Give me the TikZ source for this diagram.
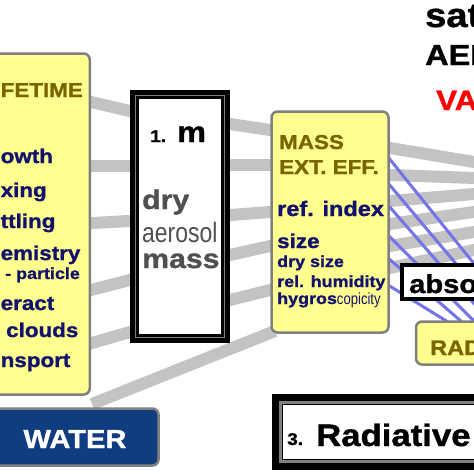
\documentclass[tikz,border=0pt]{standalone}
\usepackage{fontspec}
\setmainfont{Liberation Sans}
\newfontfamily\widesans[FakeStretch=1.12,FakeBold=1.2]{Liberation Sans}
\usepackage{graphicx}
\usetikzlibrary{calc}
\definecolor{ylw}{HTML}{FFFF8F}
\definecolor{bdr}{HTML}{808080}
\definecolor{olv}{HTML}{7A6400}
\definecolor{nvy}{HTML}{12126E}
\definecolor{bandc}{HTML}{C3C3C3}
\definecolor{blu}{HTML}{7474E8}
\definecolor{wblue}{HTML}{103C80}
\definecolor{mgray}{HTML}{505050}
\newcommand\fsz[1]{\fontsize{#1}{#1}\selectfont}
\tikzset{
  ybox/.style={draw=bdr, line width=2.5pt, fill=ylw, rounded corners=6pt, inner sep=0pt},
  band/.style={draw=bandc, line width=12pt},
  bline/.style={draw=blu, line width=3pt},
  txt/.style={inner sep=0pt, anchor=base west},
  lt/.style={inner sep=0pt, anchor=base west, text=nvy, font=\widesans\bfseries\fsz{20}},
  bw/.style={font=\widesans\bfseries\fsz{#1}},
}
\begin{document}
\begin{tikzpicture}[x=1pt,y=-1pt]
\useasboundingbox (0,0) rectangle (474,474);
\clip (0,0) rectangle (474,474);
\fill[white] (0,0) rectangle (474,474);
% gray bands: left box -> m box
\foreach \ya/\yb [count=\i] in {100.6/112.2,166/166,223.4/220.7,291.5/278.7,345/330.6}{
  \coordinate (la\i) at (85,\ya); \coordinate (lb\i) at (135,\yb);
  \draw[band] (la\i) -- (lb\i);}
% gray bands: m box -> MASS box
\foreach \ya/\yb [count=\i] in {123.25/130.75,165/165,215.4/211.6,256.1/244.9,301.25/288.75}{
  \coordinate (ma\i) at (225,\ya); \coordinate (mb\i) at (275,\yb);
  \draw[band] (ma\i) -- (mb\i);}
% water band
\coordinate (w1) at (92,404); \coordinate (w2) at (275,331);
\draw[band] (w1) -- (w2);
% gray bands: MASS -> right
\foreach \ya/\yb [count=\i] in {147.2/163,174.8/178.2,201.4/193.5,224.7/211.1,246.8/231,269/248.7}{
  \coordinate (ra\i) at (385,\ya); \coordinate (rb\i) at (480,\yb);
  \draw[band] (ra\i) -- (rb\i);}
% blue lines: MASS -> RAD
\foreach \ys/\xe [count=\i] in {157/521,183/505,205/490,235/475,258/462,285/448}{
  \coordinate (bs\i) at (388,\ys); \coordinate (be\i) at (\xe,322);
  \draw[bline] (bs\i) -- (be\i);}
% boxes
\node[ybox, minimum width=110pt, minimum height=341pt] (lbox) at (34.75,224) {};
\node[ybox, minimum width=117pt, minimum height=221pt] (mass) at (330,222) {};
\node[ybox, minimum width=90pt, minimum height=43pt] (rad) at (461,343) {};
\node[draw=bdr, line width=2.5pt, fill=wblue, rounded corners=6pt, inner sep=0pt,
      minimum width=179pt, minimum height=57pt] (water) at (69,437) {};
\node[draw=black, line width=4pt, fill=white, inner sep=0pt,
      minimum width=98pt, minimum height=34pt] (absb) at (451,282) {};
% m box frame
\node[fill=black, inner sep=0pt, minimum width=100pt, minimum height=253pt] (mbox) at (180,216.5) {};
\draw[bdr, line width=1.5pt] ($(mbox.north west)+(5.75,5.75)$) rectangle ($(mbox.south east)+(-5.75,-5.75)$);
\fill[white] ($(mbox.north west)+(9,9)$) rectangle ($(mbox.south east)+(-9,-9)$);
% radiative frame
\node[fill=black, inner sep=0pt, minimum width=223pt, minimum height=76pt] (rbox) at (383.5,432) {};
\draw[bdr, line width=3pt] ($(rbox.north west)+(8.5,8.5)$) rectangle ($(rbox.south east)+(-8.5,-8.5)$);
\fill[white] ($(rbox.north west)+(11,11)$) rectangle ($(rbox.south east)+(-11,-11)$);
% left box texts
\node[lt, text=olv] (t0) at (0.5,97) {FETIME};
\node[lt] (t1) at (0.5,163) {owth};
\node[lt] (t2) at (0.5,197) {xing};
\node[lt] (t3) at (0.5,228) {ttling};
\node[lt] (t4) at (0.5,260) {emistry};
\node[lt, font=\widesans\bfseries\fsz{16}] (t5) at (5,279) {- particle};
\node[lt] (t6) at (0.5,310) {eract};
\node[lt] (t7) at (6,337) {clouds};
\node[lt] (t8) at (0.5,367) {nsport};
% m box texts
\node[txt, bw=17] (m1) at (150,142) {1.};
\node[txt, bw=29] (m2) at (177,142) {m};
\node[txt, text=mgray, bw=27] (m3) at (142,209) {dry};
\node[txt, text=mgray, font=\fsz{28}] (m4) at (142,242) {\scalebox{0.82}[1]{aerosol}};
\node[txt, text=mgray, bw=27] (m5) at (142,268) {mass};
% MASS box texts
\node[txt, text=olv, bw=20] (s1) at (279,149) {MASS};
\node[txt, text=olv, bw=20] (s2) at (279,174) {EXT. EFF.};
\node[txt, text=nvy, bw=21] (s3) at (277,216) {ref. index};
\node[txt, text=nvy, bw=20] (s4) at (277,248) {size};
\node[txt, text=nvy, bw=16] (s5) at (277,267) {dry size};
\node[txt, text=nvy, bw=16] (s6) at (277,287) {rel. humidity};
\node[txt, text=nvy, bw=16] (s7) at (277,304) {hygros{\normalfont\fsz{16}\scalebox{0.82}[1]{copicity}}};
% right side texts
\node[txt, bw=26] (ab) at (409,293) {abso};
\node[txt, text=olv, bw=21] (rd) at (430,355) {RAD};
\node[txt, bw=17] (r3) at (287,445) {3.};
\node[txt, bw=31] (rr) at (316,446) {Radiative};
\node[inner sep=0pt, anchor=base, text=white, bw=26] (wt) at (75,448) {WATER};
\node[txt, bw=34] (h1) at (425,27) {sat};
\node[txt, bw=29] (h2) at (425,65) {AER};
\node[txt, text=red, bw=28] (h3) at (436,110) {VA};
\end{tikzpicture}
\end{document}
